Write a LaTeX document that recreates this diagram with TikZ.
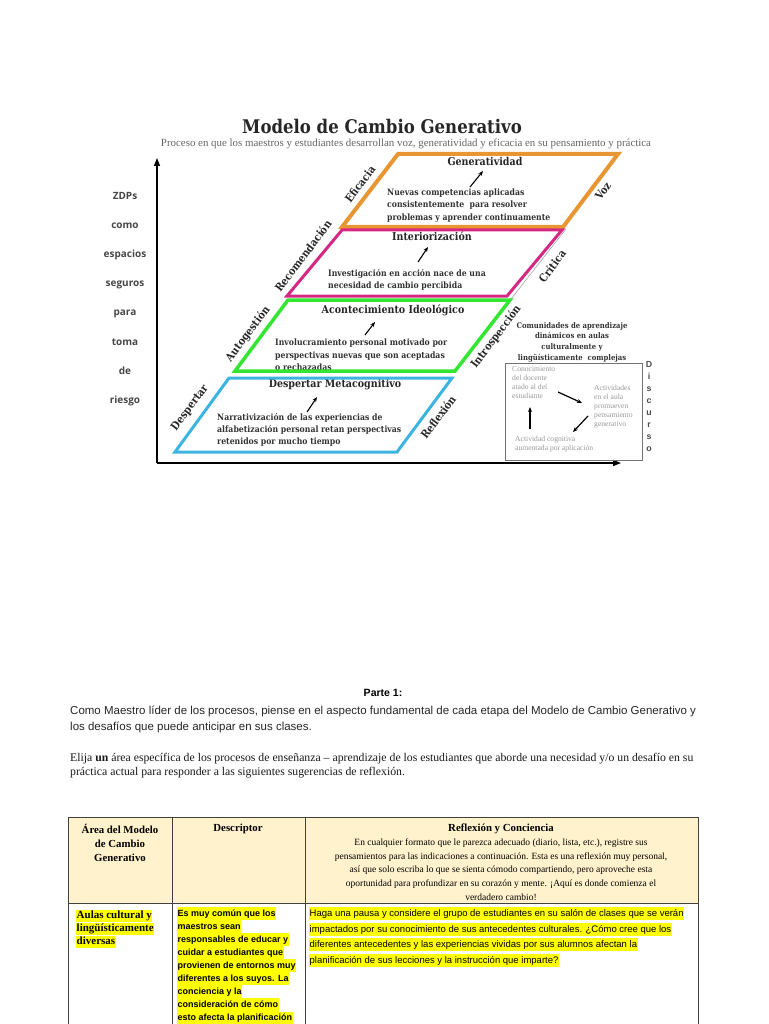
\documentclass[tikz,border=0pt]{standalone}
\usepackage{fontspec}
\setmainfont{Liberation Serif}
\newfontfamily\dvsn[FakeStretch=0.88]{DejaVu Serif}
\newfontfamily\lsans{Liberation Sans}
\newfontfamily\lserif{Liberation Serif}
\newfontfamily\osans{Open Sans}
\usetikzlibrary{arrows.meta}
\definecolor{orng}{RGB}{232,150,50}
\definecolor{mgnt}{RGB}{214,40,130}
\definecolor{grn}{RGB}{50,230,50}
\definecolor{cyn}{RGB}{60,180,225}
\definecolor{hdr}{RGB}{255,242,204}
\definecolor{hlc}{RGB}{255,255,0}
\tikzset{
  axis/.style={line width=1.4pt,-{Triangle[length=8pt,width=6pt]}},
  pgO/.style={draw=orng,line width=4pt},
  pgM/.style={draw=mgnt,line width=3pt},
  pgG/.style={draw=grn,line width=3.5pt},
  pgC/.style={draw=cyn,line width=3pt},
  side/.style={font=\dvsn\bfseries\fontsize{11}{12}\selectfont,rotate=53,inner sep=0,text=black!85},
  ptitle/.style={font=\dvsn\bfseries\fontsize{10.8}{12}\selectfont,inner sep=0,text=black!85},
  pbody/.style={font=\dvsn\bfseries\fontsize{8.8}{12.3}\selectfont,align=left,anchor=west,inner sep=0,text=black!80},
  parr/.style={line width=1.1pt,-{Stealth[length=5pt,width=4pt]}},
  zdp/.style={font=\osans\bfseries\fontsize{10}{29.1}\selectfont,align=center,inner sep=0,text=black!72},
  boxtxt/.style={font=\lserif\fontsize{7.6}{9}\selectfont,align=left,anchor=north west,inner sep=0,text=black!40},
  barr/.style={line width=1.2pt,-{Stealth[length=5pt,width=4pt]}},
  para/.style={font=\lsans\fontsize{11.5}{14}\selectfont,anchor=base west,inner sep=0,text=black!85},
  parb/.style={font=\lserif\fontsize{11.75}{14}\selectfont,anchor=base west,inner sep=0,text=black!90},
  tbl/.style={line width=0.9pt,draw=black!75},
  hb/.style={font=\lserif\bfseries\fontsize{10.8}{13.6}\selectfont,align=center,inner sep=0},
  hr/.style={font=\lserif\fontsize{9.5}{13.75}\selectfont,align=center,inner sep=0},
  hla/.style={fill=hlc,anchor=base west,inner xsep=0.5pt,inner ysep=0.5pt,text height=8.5pt,text depth=3pt,font=\lserif\bfseries\fontsize{11}{12}\selectfont},
  hlb/.style={fill=hlc,anchor=base west,inner xsep=0.5pt,inner ysep=0.75pt,text height=8.5pt,text depth=3.1pt,font=\lsans\bfseries\fontsize{9}{10}\selectfont},
  hlcc/.style={fill=hlc,anchor=base west,inner xsep=0.5pt,inner ysep=0.5pt,text height=9pt,text depth=3pt,font=\lsans\fontsize{9.5}{10}\selectfont},
}
\begin{document}
\begin{tikzpicture}[x=1pt,y=-1pt]
\useasboundingbox (0,0) rectangle (768,1024);
\fill[white] (0,0) rectangle (768,1024);

% title
\node[font=\dvsn\bfseries\fontsize{18.8}{20}\selectfont,text=black!85,inner sep=0] (title) at (382,126) {Modelo de Cambio Generativo};
\node[font=\lserif\fontsize{10.9}{11}\selectfont,text=black!60,inner sep=0] (subtitle) at (406,144) {Proceso en que los maestros y estudiantes desarrollan voz, generatividad y eficacia en su pensamiento y práctica};

% axes
\coordinate (origin) at (157,463);
\coordinate (ytip) at (157,158);
\coordinate (xtip) at (621,463);
\draw[axis] (origin) -- (ytip);
\draw[axis] (origin) -- (xtip);

% left column
\node[zdp] (zdp) at (125,299) {ZDPs\\como\\espacios\\seguros\\para\\toma\\de\\riesgo};

% titles and bodies
\node[ptitle] (tO) at (485,161) {Generatividad};
\node[pbody] (bO) at (387,205.5) {Nuevas competencias aplicadas\\consistentemente \ para resolver\\problemas y aprender continuamente};
\node[ptitle] (tM) at (432,236) {Interiorización};
\node[pbody] (bM) at (328,280) {Investigación en acción nace de una\\necesidad de cambio percibida};
\node[ptitle] (tG) at (393,310) {Acontecimiento Ideológico};
\node[pbody] (bG) at (275,355) {Involucramiento personal motivado por\\perspectivas nuevas que son aceptadas\\o rechazadas};
\node[ptitle] (tC) at (335,385) {Despertar Metacognitivo};
\node[pbody] (bC) at (217,430) {Narrativización de las experiencias de\\alfabetización personal retan perspectivas\\retenidos por mucho tiempo};

% thin guide line beside the pink layer
\coordinate (g1) at (511,299); \coordinate (g2) at (566,229);
\draw[draw=black!40,line width=0.5pt] (g1) -- (g2);

% parallelograms
\draw[pgO] (398,154) -- (618,154) -- (563,227) -- (342,227) -- cycle;
\draw[pgM] (342,230) -- (562,230) -- (507,296) -- (287,296) -- cycle;
\draw[pgG] (288,300) -- (510,300) -- (455,371) -- (235,371) -- cycle;
\draw[pgC] (229,378) -- (452,378) -- (397,452) -- (175,452) -- cycle;

% arrows inside
\coordinate (aO1) at (470,187); \coordinate (aO2) at (483,171);
\coordinate (aM1) at (418,262); \coordinate (aM2) at (428,247);
\coordinate (aG1) at (365,335); \coordinate (aG2) at (375,322);
\coordinate (aC1) at (307,412); \coordinate (aC2) at (317,397);
\draw[parr] (aO1) -- (aO2);
\draw[parr] (aM1) -- (aM2);
\draw[parr] (aG1) -- (aG2);
\draw[parr] (aC1) -- (aC2);

% side labels
\node[side] (sEf) at (360,184) {Eficacia};
\node[side] (sRe) at (303,256) {Recomendación};
\node[side] (sAu) at (248,334) {Autogestión};
\node[side] (sDe) at (190,408) {Despertar};
\node[side] (sVo) at (603,191) {Voz};
\node[side] (sCr) at (552,266) {Crítica};
\node[side] (sIn) at (496,337) {Introspección};
\node[side] (sRf) at (438,417) {Reflexión};

% communities box
\node[font=\dvsn\bfseries\fontsize{7.8}{10.7}\selectfont,align=center,inner sep=0,text=black!80] (com) at (572,342) {Comunidades de aprendizaje\\dinámicos en aulas\\culturalmente y\\lingüísticamente \ complejas};
\draw[draw=black!55,line width=0.8pt] (505,363) rectangle (642,460);
\node[boxtxt] (k1) at (512,366) {Conocimiento\\del docente\\atado al del\\estudiante};
\node[boxtxt] (k2) at (594,385) {Actividades\\en el aula\\promueven\\pensamiento\\generativo};
\node[boxtxt] (k3) at (515,436) {Actividad cognitiva\\aumentada por aplicación};
\coordinate (b1s) at (558,392); \coordinate (b1e) at (582,403);
\coordinate (b2s) at (588,416); \coordinate (b2e) at (573,432);
\coordinate (b3s) at (530,429); \coordinate (b3e) at (530,407);
\draw[barr] (b1s) -- (b1e);
\draw[barr] (b2s) -- (b2e);
\draw[barr] (b3s) -- (b3e);
\node[font=\lsans\bfseries\fontsize{8.8}{12}\selectfont,align=center,inner sep=0,text=black!70] (disc) at (649,407) {D\\i\\s\\c\\u\\r\\s\\o};

% Parte 1
\node[font=\lsans\bfseries\fontsize{10.5}{12}\selectfont,inner sep=0] (parte) at (383,693) {Parte 1:};
\node[para] (p1a) at (70,714) {Como Maestro líder de los procesos, piense en el aspecto fundamental de cada etapa del Modelo de Cambio Generativo y};
\node[para] (p1b) at (70,730) {los desafíos que puede anticipar en sus clases.};
\node[parb] (p2a) at (70,761) {Elija \textbf{un} área específica de los procesos de enseñanza – aprendizaje de los estudiantes que aborde una necesidad y/o un desafío en su};
\node[parb] (p2b) at (70,775) {práctica actual para responder a las siguientes sugerencias de reflexión.};

% table
\fill[hdr] (68,817) rectangle (698,903);
\draw[tbl] (68,1030) -- (68,817) -- (698,817) -- (698,1030);
\draw[tbl] (68,903) -- (698,903);
\draw[tbl] (172,817) -- (172,1030);
\draw[tbl] (305,817) -- (305,1030);
\node[hb] (h1) at (120,843) {Área del Modelo\\de Cambio\\Generativo};
\node[hb] (h2) at (238,829) {Descriptor};
\node[hb] (h3) at (501,829) {Reflexión y Conciencia};
\node[hr] (h3b) at (501,869.5) {En cualquier formato que le parezca adecuado (diario, lista, etc.), registre sus\\pensamientos para las indicaciones a continuación. Esta es una reflexión muy personal,\\así que solo escriba lo que se sienta cómodo compartiendo, pero aproveche esta\\oportunidad para profundizar en su corazón y mente. ¡Aquí es donde comienza el\\verdadero cambio!};

% row 2
\node[hla] (r1a) at (76,918.5) {Aulas cultural y};
\node[hla] (r1b) at (76,931.5) {lingüísticamente};
\node[hla] (r1c) at (76,944.5) {diversas};

\node[hlb] (r2a) at (177,916) {Es muy común que los};
\node[hlb] (r2b) at (177,929.1) {maestros sean};
\node[hlb] (r2c) at (177,942.2) {responsables de educar y};
\node[hlb] (r2d) at (177,955.3) {cuidar a estudiantes que};
\node[hlb] (r2e) at (177,968.4) {provienen de entornos muy};
\node[hlb] (r2f) at (177,981.5) {diferentes a los suyos. La};
\node[hlb] (r2g) at (177,994.6) {conciencia y la};
\node[hlb] (r2h) at (177,1007.7) {consideración de cómo};
\node[hlb] (r2i) at (177,1020.8) {esto afecta la planificación};

\node[hlcc] (r3a) at (309,916.5) {Haga una pausa y considere el grupo de estudiantes en su salón de clases que se verán};
\node[hlcc] (r3b) at (309,932.1) {impactados por su conocimiento de sus antecedentes culturales. ¿Cómo cree que los};
\node[hlcc] (r3c) at (309,947.7) {diferentes antecedentes y las experiencias vividas por sus alumnos afectan la};
\node[hlcc] (r3d) at (309,963.3) {planificación de sus lecciones y la instrucción que imparte?};
\end{tikzpicture}
\end{document}
